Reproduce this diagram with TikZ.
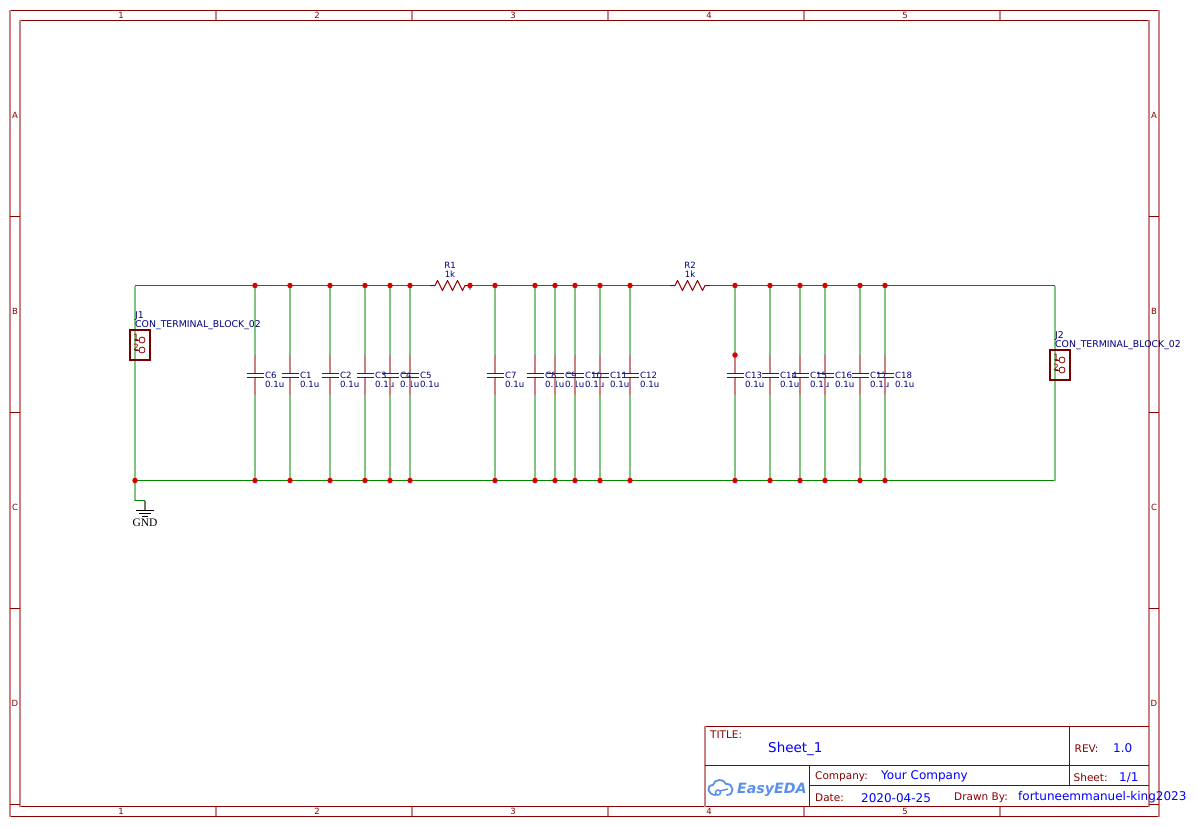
\documentclass[tikz,border=0pt]{standalone}
\usepackage{fontspec}
\setmainfont{DejaVu Sans}
\newfontfamily\gndfont{Liberation Serif}
\definecolor{sheetred}{HTML}{880000}
\definecolor{lightred}{HTML}{C88080}
\definecolor{wiregreen}{HTML}{008800}
\definecolor{lightgreen}{HTML}{80C480}
\definecolor{partblue}{HTML}{000080}
\definecolor{textblue}{HTML}{0000FF}
\definecolor{logoblue}{HTML}{5B8FEF}
\tikzset{
  wire/.style={wiregreen,line width=1pt},
  vwire/.style={lightgreen,line width=2pt},
  pin/.style={sheetred,line width=1pt},
  vpin/.style={lightred,line width=2pt},
  frameline/.style={sheetred,line width=1pt},
  vframe/.style={lightred,line width=2pt},
  junction/.style={circle,fill=red!85!black,inner sep=0pt,minimum size=5.5pt},
  partlabel/.style={partblue,anchor=west,inner sep=0pt,font=\fontsize{8.6}{9}\selectfont},
  longlabel/.style={partlabel,font=\fontsize{9.35}{10}\selectfont},
  tick/.style={sheetred,inner sep=0pt,font=\fontsize{8.5}{9}\selectfont},
  redtext/.style={sheetred,anchor=west,inner sep=0pt,font=\fontsize{10.5}{11}\selectfont},
  bluetext/.style={textblue,anchor=west,inner sep=0pt,font=\fontsize{12}{12}\selectfont},
}
\begin{document}
\begin{tikzpicture}[x=1pt,y=-1pt]
\useasboundingbox (0,0) rectangle (1197,827);
% one capacitor between the two rails
\newcommand\capa[2]{
\coordinate (t#2) at (#1,285.5);
\coordinate (b#2) at (#1,480.5);
\coordinate (p#2) at (#1,355);
\coordinate (q#2) at (#1,395);
\coordinate (u#2) at (#1,373.5);
\coordinate (v#2) at (#1,377.5);
\draw[vwire] (t#2) -- (p#2);
\draw[vwire] (q#2) -- (b#2);
\draw[vpin] (p#2) -- (u#2);
\draw[vpin] (v#2) -- (q#2);
\draw[pin] ([xshift=-8.5pt]u#2) -- ([xshift=8.5pt]u#2);
\draw[pin] ([xshift=-8.5pt]v#2) -- ([xshift=8.5pt]v#2);
\node[junction] (d#2) at (t#2) {};
\node[junction] (e#2) at (b#2) {};
\node[partlabel] (n#2) at (#1+10,375) {#2};
\node[partlabel] (w#2) at (#1+10,384.5) {0.1u};
}
% one resistor, left end given
\newcommand\resi[3]{
\begin{scope}[xshift=#1pt]
\coordinate (#2a) at (-5,285.5);
\coordinate (#2b) at (35,285.5);
\draw[pin,line join=round] (#2a) -- (0,285.5) -- (2.5,280.5) -- (7.5,290.5) -- (12.5,280.5) -- (17.5,290.5) -- (22.5,280.5) -- (27.5,290.5) -- (30,285.5) -- (#2b);
\node[partblue,inner sep=0pt,font=\fontsize{8.6}{9}\selectfont] (#2n) at (15,265) {#2};
\node[partblue,inner sep=0pt,font=\fontsize{8.6}{9}\selectfont] (#2v) at (15,274) {#3};
\end{scope}
}
% terminal block, top left corner given
\newcommand\terminal[2]{
\begin{scope}[xshift=#1pt,yshift=-#2pt]
\draw[sheetred!85!black,line width=2pt] (0,0) rectangle (20,30);
\draw[pin] (5,10) -- (9,10);
\draw[pin] (5,20) -- (9,20);
\draw[pin,fill=white,line width=.8pt] (12,10) circle (3);
\draw[pin,fill=white,line width=.8pt] (12,20) circle (3);
\node[sheetred,inner sep=0pt,font=\fontsize{8.6}{9}\selectfont] at (6,7) {1};
\node[sheetred,inner sep=0pt,font=\fontsize{8.6}{9}\selectfont] at (6,17) {2};
\end{scope}
}
% sheet frame
\draw[frameline] (10,10.5) -- (1159,10.5);
\draw[frameline] (20,20.5) -- (1149,20.5);
\draw[frameline] (10,816.5) -- (1159,816.5);
\draw[frameline] (20,806.5) -- (1149,806.5);
\draw[vframe] (10,10) -- (10,817);
\draw[vframe] (20,20) -- (20,807);
\draw[vframe] (1159,10) -- (1159,817);
\draw[vframe] (1149,20) -- (1149,807);
\draw[vframe] (216,11) -- (216,20);
\draw[vframe] (412,11) -- (412,20);
\draw[vframe] (608,11) -- (608,20);
\draw[vframe] (804,11) -- (804,20);
\draw[vframe] (1000,11) -- (1000,20);
\draw[vframe] (216,807) -- (216,816);
\draw[vframe] (412,807) -- (412,816);
\draw[vframe] (608,807) -- (608,816);
\draw[vframe] (804,807) -- (804,816);
\draw[vframe] (1000,807) -- (1000,816);
\draw[frameline] (10,216.5) -- (20,216.5);
\draw[frameline] (10,412.5) -- (20,412.5);
\draw[frameline] (10,608.5) -- (20,608.5);
\draw[frameline] (10,804.5) -- (20,804.5);
\draw[frameline] (1149,216.5) -- (1159,216.5);
\draw[frameline] (1149,412.5) -- (1159,412.5);
\draw[frameline] (1149,608.5) -- (1159,608.5);
\draw[frameline] (1149,804.5) -- (1159,804.5);
\node[tick] at (121,15.5) {1};
\node[tick] at (317,15.5) {2};
\node[tick] at (513,15.5) {3};
\node[tick] at (709,15.5) {4};
\node[tick] at (905,15.5) {5};
\node[tick] at (121,811.5) {1};
\node[tick] at (317,811.5) {2};
\node[tick] at (513,811.5) {3};
\node[tick] at (709,811.5) {4};
\node[tick] at (905,811.5) {5};
\node[tick] at (15,115.5) {A};
\node[tick] at (15,311.5) {B};
\node[tick] at (15,507.5) {C};
\node[tick] at (15,703.5) {D};
\node[tick] at (1154,115.5) {A};
\node[tick] at (1154,311.5) {B};
\node[tick] at (1154,507.5) {C};
\node[tick] at (1154,703.5) {D};
% title block
\draw[frameline] (705,726.5) -- (1149,726.5);
\draw[vframe] (705,726) -- (705,807);
\draw[frameline] (705,765.5) -- (1149,765.5);
\draw[frameline] (1069.5,726.5) -- (1069.5,785.5);
\draw[frameline] (809.5,765.5) -- (809.5,806.5);
\draw[frameline] (809.5,785.5) -- (1149,785.5);
\node[redtext] (title) at (710,735) {TITLE:};
\node[bluetext,font=\fontsize{13.5}{14}\selectfont] (sheetname) at (768,748.5) {Sheet\_1};
\node[redtext] (rev) at (1074.5,748.5) {REV:};
\node[bluetext] (revno) at (1113,748.5) {1.0};
\node[redtext] (company) at (815,777) {Company:};
\node[bluetext] (companyname) at (881,776.5) {Your Company};
\node[redtext] (sheet) at (1073.5,777.5) {Sheet:};
\node[bluetext] (sheetno) at (1119,777.5) {1/1};
\node[redtext] (date) at (815,798) {Date:};
\node[bluetext] (dateval) at (861,798) {2020-04-25};
\node[redtext] (drawn) at (954,798) {Drawn By:};
\node[bluetext] (author) at (1018,797.5) {fortuneemmanuel-king2023};
% logo
\draw[logoblue,line width=1.8pt,line cap=round,line join=round] (716,795) .. controls (707,795) and (706,785) .. (713,785) .. controls (714,779) and (724,778) .. (726,784) .. controls (734,783) and (735,795) .. (727,795);
\draw[logoblue,line width=1.5pt] (718,792.5) circle (2.5);
\draw[logoblue,line width=1.5pt] (720,791) -- (728,789);
\node[logoblue,anchor=west,inner sep=0pt,font=\fontsize{14.2}{15}\bfseries\itshape\selectfont] (logo) at (737,789.5) {EasyEDA};
% rails
\resi{435}{R1}{1k}
\resi{675}{R2}{1k}
\coordinate (jtop) at (135,285.5);
\coordinate (jbot) at (135,480.5);
\coordinate (ktop) at (1055,285.5);
\coordinate (kbot) at (1055,480.5);
\coordinate (rtap) at (470,285.5);
\coordinate (stub) at (470,290);
\coordinate (gnda) at (135,500.5);
\coordinate (gndb) at (145,500.5);
\coordinate (gndc) at (145,510);
\draw[wire] (jtop) -- (R1a);
\draw[wire] (rtap) -- (R2a);
\draw[wire] (R2b) -- (ktop);
\draw[wire] (kbot) -- (jbot);
\draw[vwire] (jtop) -- (gnda);
\draw[vwire] (ktop) -- (kbot);
\draw[vwire] (rtap) -- (stub);
\draw[wire] (gnda) -- (gndb);
% capacitors
\capa{255}{C6}
\capa{290}{C1}
\capa{330}{C2}
\capa{365}{C3}
\capa{390}{C4}
\capa{410}{C5}
\capa{495}{C7}
\capa{535}{C8}
\capa{555}{C9}
\capa{575}{C10}
\capa{600}{C11}
\capa{630}{C12}
\capa{735}{C13}
\capa{770}{C14}
\capa{800}{C15}
\capa{825}{C16}
\capa{860}{C17}
\capa{885}{C18}
\node[junction] (dot13) at (735,355) {};
\node[junction] (dotR1) at (rtap) {};
\node[junction] (dotJ1) at (jbot) {};
% terminals
\terminal{130}{330}
\terminal{1050}{350}
\node[longlabel] (j1) at (135,316) {J1};
\node[longlabel] (j1v) at (135,325.5) {CON\_TERMINAL\_BLOCK\_02};
\node[longlabel] (j2) at (1055,336) {J2};
\node[longlabel] (j2v) at (1055,345) {CON\_TERMINAL\_BLOCK\_02};
% ground
\draw[black!55,line width=2pt] (gndb) -- (gndc);
\draw[black,line width=1pt] (136,510.5) -- (154,510.5);
\draw[black,line width=1pt] (139,513.5) -- (151,513.5);
\draw[black,line width=1pt] (142,516.5) -- (148,516.5);
\node[black,inner sep=0pt,font=\gndfont\fontsize{11.5}{12}\selectfont] (gnd) at (145,522.5) {GND};
\end{tikzpicture}
\end{document}
